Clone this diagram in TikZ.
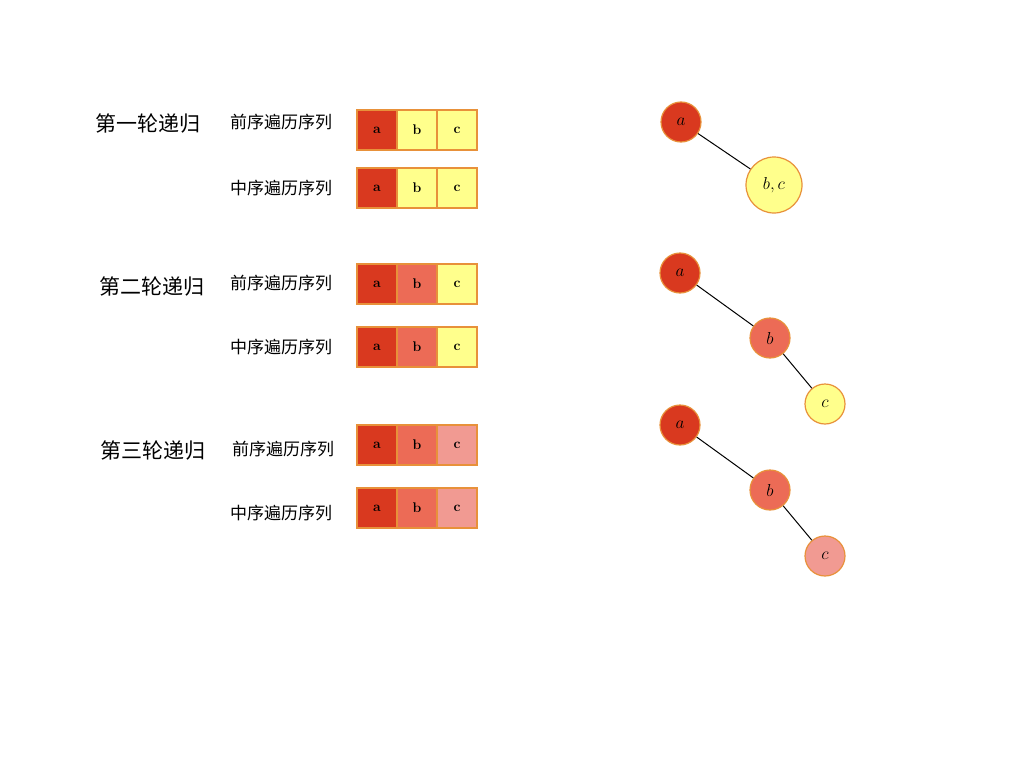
\documentclass[tikz,border=0pt]{standalone}
\usepackage{fontspec}
\newfontfamily\cjk{Noto Sans CJK SC}
\usepackage{tikz}
\definecolor{redc}{HTML}{D9391F}
\definecolor{yelc}{HTML}{FFFF8C}
\definecolor{salc}{HTML}{EC6B56}
\definecolor{pinc}{HTML}{F19A92}
\definecolor{bordc}{HTML}{E8913A}
\tikzset{
  cell/.style={draw=bordc, line width=1.2pt, minimum width=40pt, minimum height=40pt, inner sep=0pt, font=\fontsize{14}{14}\selectfont\bfseries},
  tnode/.style={circle, draw=bordc, line width=1.2pt, minimum size=40pt, inner sep=0pt, font=\fontsize{18}{18}\selectfont},
  round/.style={font=\cjk\fontsize{21}{21}\selectfont},
  seq/.style={font=\cjk\fontsize{17}{17}\selectfont}
}
\begin{document}
\begin{tikzpicture}[x=1pt,y=-1pt]
	\useasboundingbox (0,0) rectangle (1024,768);
	% left: sequences
	\node[round] (r1) at (148,124) {第一轮递归};
	\node[round] (r2) at (152,287) {第二轮递归};
	\node[round] (r3) at (153,451) {第三轮递归};
	\node[seq] (p1) at (281,122) {前序遍历序列};
	\node[seq] (i1) at (281,188) {中序遍历序列};
	\node[seq] (p2) at (281,283) {前序遍历序列};
	\node[seq] (i2) at (281,347) {中序遍历序列};
	\node[seq] (p3) at (283,449) {前序遍历序列};
	\node[seq] (i3) at (281,513) {中序遍历序列};
	\foreach \n/\y/\cb/\cc in {p1/130/yelc/yelc, i1/188/yelc/yelc,
	                           p2/284/salc/yelc, i2/347/salc/yelc,
	                           p3/445/salc/pinc, i3/508/salc/pinc} {
		\node[cell, fill=redc] (\n a) at (377,\y) {a};
		\node[cell, fill=\cb] (\n b) at (417,\y) {b};
		\node[cell, fill=\cc] (\n c) at (457,\y) {c};
	}
	% right: trees
	\node[tnode, fill=redc] (t1a) at (681,122) {$a$};
	\node[tnode, fill=yelc, minimum size=56pt] (t1b) at (774,185) {$b,c$};
	\draw[line width=1pt] (t1a) -- (t1b);
	\node[tnode, fill=redc] (t2a) at (680,273) {$a$};
	\node[tnode, fill=salc] (t2b) at (770,338) {$b$};
	\node[tnode, fill=yelc] (t2c) at (825,404) {$c$};
	\draw[line width=1pt] (t2a) -- (t2b) -- (t2c);
	\node[tnode, fill=redc] (t3a) at (680,425) {$a$};
	\node[tnode, fill=salc] (t3b) at (770,490) {$b$};
	\node[tnode, fill=pinc] (t3c) at (825,556) {$c$};
	\draw[line width=1pt] (t3a) -- (t3b) -- (t3c);
\end{tikzpicture}
\end{document}
